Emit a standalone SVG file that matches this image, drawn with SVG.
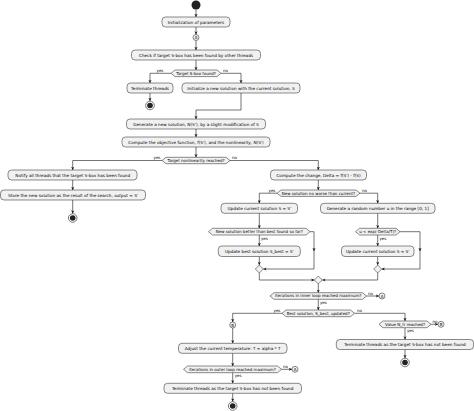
<svg xmlns="http://www.w3.org/2000/svg" width="474" height="411" viewBox="0 0 474 411">
<style>
.b{fill:#F1F1F1;stroke:#181818;stroke-width:0.5}
.t{font-family:"DejaVu Sans",sans-serif;font-size:4.2px;fill:#000;text-anchor:middle}
.h{font-family:"DejaVu Sans",sans-serif;font-size:4px;fill:#000;text-anchor:middle}
.l{font-family:"DejaVu Sans",sans-serif;font-size:4px;fill:#000}
.c{fill:none;stroke:#181818;stroke-width:0.6}
.s{fill:#222}
.e{fill:none;stroke:#222;stroke-width:0.6}
</style>
<defs>
<marker id="ah" viewBox="0 0 10 10" refX="10" refY="5" markerWidth="3.2" markerHeight="3.2" markerUnits="userSpaceOnUse" orient="auto">
<path d="M0,0 L10,5 L0,10 L3,5 z" fill="#181818"/>
</marker>
</defs>
<rect width="474" height="411" fill="#fff"/>
<g id="connectors">
<path class="c" d="M196,9.5 V17" marker-end="url(#ah)"/>
<path class="c" d="M196,27 V34.5" marker-end="url(#ah)"/>
<path class="c" d="M196,40.5 V50" marker-end="url(#ah)"/>
<path class="c" d="M196,60 V70" marker-end="url(#ah)"/>
<path class="c" d="M171,73.3 H150 V83" marker-end="url(#ah)"/>
<path class="c" d="M221,73.3 H241 V83" marker-end="url(#ah)"/>
<path class="c" d="M150,93 V101" marker-end="url(#ah)"/>
<path class="c" d="M241,93 V110 H196 V119" marker-end="url(#ah)"/>
<path class="c" d="M196,129 V137" marker-end="url(#ah)"/>
<path class="c" d="M196,147 V157.3" marker-end="url(#ah)"/>
<path class="c" d="M162,160.5 H72.7 V170" marker-end="url(#ah)"/>
<path class="c" d="M230,160.5 H318.3 V170" marker-end="url(#ah)"/>
<path class="c" d="M72.7,180 V190" marker-end="url(#ah)"/>
<path class="c" d="M72.7,200 V213.5" marker-end="url(#ah)"/>
<path class="c" d="M318.3,180 V190" marker-end="url(#ah)"/>
<path class="c" d="M277,193.2 H259.3 V203.3" marker-end="url(#ah)"/>
<path class="c" d="M360,193.2 H377.7 V203.3" marker-end="url(#ah)"/>
<path class="c" d="M259.3,213.3 V228.3" marker-end="url(#ah)"/>
<path class="c" d="M259.3,235 V246" marker-end="url(#ah)"/>
<path class="c" d="M259.3,256.5 V265" marker-end="url(#ah)"/>
<path class="c" d="M310,231.7 H314 V251" marker-end="url(#ah)"/>
<path class="c" d="M314,250 V269 H263.3" marker-end="url(#ah)"/>
<path class="c" d="M377.7,213.3 V228.3" marker-end="url(#ah)"/>
<path class="c" d="M377.7,235 V246" marker-end="url(#ah)"/>
<path class="c" d="M377.7,256.5 V265" marker-end="url(#ah)"/>
<path class="c" d="M400,231.7 H420 V251" marker-end="url(#ah)"/>
<path class="c" d="M420,250 V269 H381.7" marker-end="url(#ah)"/>
<path class="c" d="M259.3,273 V280 H314.3" marker-end="url(#ah)"/>
<path class="c" d="M377.7,273 V280 H322.3" marker-end="url(#ah)"/>
<path class="c" d="M318.3,284 V292.7" marker-end="url(#ah)"/>
<path class="c" d="M366.5,296 H379" marker-end="url(#ah)"/>
<path class="c" d="M318.3,299.3 V310" marker-end="url(#ah)"/>
<path class="c" d="M282,313.3 H232.7 V322" marker-end="url(#ah)"/>
<path class="c" d="M354.5,313.3 H405 V321" marker-end="url(#ah)"/>
<path class="c" d="M431,324.3 H438" marker-end="url(#ah)"/>
<path class="c" d="M405,327.7 V339.5" marker-end="url(#ah)"/>
<path class="c" d="M405,349.5 V358" marker-end="url(#ah)"/>
<path class="c" d="M232.7,328 V343.3" marker-end="url(#ah)"/>
<path class="c" d="M232.7,353.3 V366" marker-end="url(#ah)"/>
<path class="c" d="M281.5,369.3 H292" marker-end="url(#ah)"/>
<path class="c" d="M232.7,372.7 V383.3" marker-end="url(#ah)"/>
<path class="c" d="M232.7,393.3 V401.5" marker-end="url(#ah)"/>
<text class="l" x="160" y="72" text-anchor="middle">yes</text>
<text class="l" x="223" y="72">no</text>
<text class="l" x="157" y="159.2" text-anchor="middle">yes</text>
<text class="l" x="232" y="159.2">no</text>
<text class="l" x="272" y="191.9" text-anchor="middle">yes</text>
<text class="l" x="362" y="191.9">no</text>
<text class="l" x="261" y="239.5">yes</text>
<text class="l" x="379.5" y="239.5">yes</text>
<text class="l" x="368" y="294.7">no</text>
<text class="l" x="320" y="303.6">yes</text>
<text class="l" x="277" y="312" text-anchor="middle">yes</text>
<text class="l" x="357" y="312">no</text>
<text class="l" x="432.5" y="323">no</text>
<text class="l" x="407" y="332">yes</text>
<text class="l" x="283" y="368">no</text>
<text class="l" x="234.7" y="376.7">yes</text>
</g>
<g id="start"><circle class="s" cx="196" cy="5" r="4.5"/></g>
<g id="init"><rect class="b" x="162" y="17" width="68" height="10" rx="3.5"/><text class="t" x="196" y="23.5">Initialization of parameters</text></g>
<g id="connA1"><circle class="b" cx="196" cy="37.5" r="3"/><text class="h" x="196" y="39">A</text></g>
<g id="check"><rect class="b" x="131.5" y="50" width="129" height="10" rx="3.5"/><text class="t" x="196" y="56.5">Check if target S-box has been found by other threads</text></g>
<g id="ifFound"><polygon class="b" points="171,73.3 175,70 217,70 221,73.3 217,76.6 175,76.6"/><text class="h" x="196" y="74.7">Target S-box found?</text></g>
<g id="terminate1"><rect class="b" x="127" y="83" width="46" height="10" rx="3.5"/><text class="t" x="150" y="89.5">Terminate threads</text></g>
<g id="end1"><circle class="e" cx="150" cy="105.5" r="4.3"/><circle class="s" cx="150" cy="105.5" r="2.8"/></g>
<g id="initSol"><rect class="b" x="182" y="83" width="118" height="10" rx="3.5"/><text class="t" x="241" y="89.5">Initialize a new solution with the current solution, S</text></g>
<g id="generate"><rect class="b" x="126.5" y="119" width="139" height="10" rx="3.5"/><text class="t" x="196" y="125.5">Generate a new solution, N(S'), by a slight modification of S</text></g>
<g id="computeObj"><rect class="b" x="122" y="137" width="148" height="10" rx="3.5"/><text class="t" x="196" y="143.5">Compute the objective function, f(S'), and the nonlinearity, N(S')</text></g>
<g id="ifNonlin"><polygon class="b" points="162,160.5 166,157.3 226,157.3 230,160.5 226,163.7 166,163.7"/><text class="h" x="196" y="161.9">Target nonlinearity reached?</text></g>
<g id="notify"><rect class="b" x="8" y="170" width="129" height="10" rx="3.5"/><text class="t" x="72.7" y="176.5">Notify all threads that the target S-box has been found</text></g>
<g id="store"><rect class="b" x="0.5" y="190" width="145" height="10" rx="3.5"/><text class="t" x="73" y="196.5">Store the new solution as the result of the search, output = S'</text></g>
<g id="end2"><circle class="e" cx="72.7" cy="218" r="4.3"/><circle class="s" cx="72.7" cy="218" r="2.8"/></g>
<g id="computeDelta"><rect class="b" x="270.5" y="170" width="96" height="10" rx="3.5"/><text class="t" x="318.5" y="176.5">Compute the change, Delta = f(S') - f(S)</text></g>
<g id="ifNoWorse"><polygon class="b" points="277,193.2 281,190 356,190 360,193.2 356,196.4 281,196.4"/><text class="h" x="318.5" y="194.6">New solution no worse than current?</text></g>
<g id="updateCur1"><rect class="b" x="221" y="203.3" width="76.6" height="10" rx="3.5"/><text class="t" x="259.3" y="209.8">Update current solution S = S'</text></g>
<g id="random"><rect class="b" x="320.5" y="203.3" width="114.5" height="10" rx="3.5"/><text class="t" x="377.7" y="209.8">Generate a random number u in the range [0, 1]</text></g>
<g id="ifBetter"><polygon class="b" points="208.5,231.7 212.5,228.3 306,228.3 310,231.7 306,235 212.5,235"/><text class="h" x="259.3" y="233.1">New solution better than best found so far?</text></g>
<g id="updateBest"><rect class="b" x="218.3" y="246" width="82" height="10.5" rx="3.5"/><text class="t" x="259.3" y="252.7">Update best solution S_best = S'</text></g>
<g id="ifExp"><polygon class="b" points="355.5,231.7 359.5,228.3 396,228.3 400,231.7 396,235 359.5,235"/><text class="h" x="377.7" y="233.1">u &lt; exp(-Delta/T)?</text></g>
<g id="updateCur2"><rect class="b" x="341.5" y="246" width="72.5" height="10.5" rx="3.5"/><text class="t" x="377.7" y="252.7">Update current solution S = S'</text></g>
<g id="merge1"><polygon class="b" points="259.3,265 263.3,269 259.3,273 255.3,269"/></g>
<g id="merge2"><polygon class="b" points="377.7,265 381.7,269 377.7,273 373.7,269"/></g>
<g id="merge3"><polygon class="b" points="318.3,276 322.3,280 318.3,284 314.3,280"/></g>
<g id="ifInner"><polygon class="b" points="270,296 274,292.7 362.5,292.7 366.5,296 362.5,299.3 274,299.3"/><text class="h" x="318.3" y="297.4">Iterations in inner loop reached maximum?</text></g>
<g id="connA2"><circle class="b" cx="382" cy="296" r="3"/><text class="h" x="382" y="297.5">A</text></g>
<g id="ifBestUpd"><polygon class="b" points="282,313.3 286,310 350.5,310 354.5,313.3 350.5,316.7 286,316.7"/><text class="h" x="318.3" y="314.7">Best solution, S_best, updated?</text></g>
<g id="connB1"><circle class="b" cx="232.7" cy="325" r="3"/><text class="h" x="232.7" y="326.5">B</text></g>
<g id="ifNtr"><polygon class="b" points="379,324.3 383,321 427,321 431,324.3 427,327.7 383,327.7"/><text class="h" x="405" y="325.7">Value N_tr reached?</text></g>
<g id="connB2"><circle class="b" cx="441" cy="324.3" r="3"/><text class="h" x="441" y="325.8">B</text></g>
<g id="terminate2"><rect class="b" x="336.3" y="339.5" width="137.3" height="10" rx="3.5"/><text class="t" x="405" y="346">Terminate threads as the target S-box has not been found</text></g>
<g id="end3"><circle class="e" cx="405" cy="362.5" r="4.3"/><circle class="s" cx="405" cy="362.5" r="2.8"/></g>
<g id="adjust"><rect class="b" x="178.5" y="343.3" width="108.5" height="10" rx="3.5"/><text class="t" x="232.7" y="349.8">Adjust the current temperature: T = alpha * T</text></g>
<g id="ifOuter"><polygon class="b" points="183.5,369.3 187.5,366 277.5,366 281.5,369.3 277.5,372.7 187.5,372.7"/><text class="h" x="232.5" y="370.7">Iterations in outer loop reached maximum?</text></g>
<g id="connA3"><circle class="b" cx="295" cy="369.3" r="3"/><text class="h" x="295" y="370.8">A</text></g>
<g id="terminate3"><rect class="b" x="164" y="383.3" width="137.5" height="10" rx="3.5"/><text class="t" x="232.7" y="389.8">Terminate threads as the target S-box has not been found</text></g>
<g id="end4"><circle class="e" cx="232.7" cy="406" r="4.3"/><circle class="s" cx="232.7" cy="406" r="2.8"/></g>
</svg>
